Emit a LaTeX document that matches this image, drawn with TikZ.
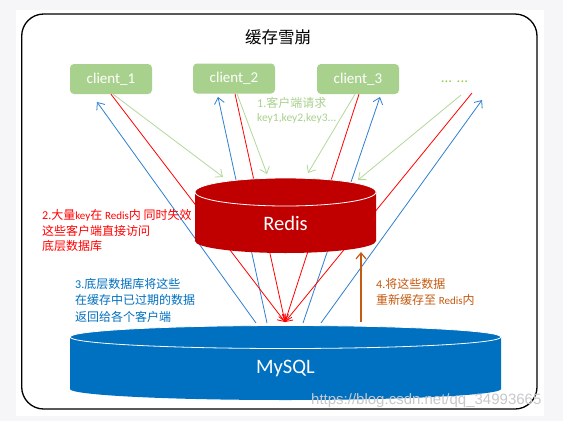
\documentclass[tikz,border=0pt]{standalone}
\usepackage{fontspec}
\setmainfont{Carlito}
\newfontfamily\cjk{Noto Sans CJK SC}
\newfontfamily\calib{Carlito}
\newfontfamily\wmfont{Liberation Sans}
\usetikzlibrary{arrows.meta}
\definecolor{cligreen}{HTML}{A9D18E}
\definecolor{dotgreen}{HTML}{92D050}
\definecolor{redisred}{HTML}{C00000}
\definecolor{mysqlblue}{HTML}{0070C0}
\definecolor{lineblue}{HTML}{2F80D0}
\definecolor{linered}{HTML}{FF0000}
\definecolor{orangec}{HTML}{C55A11}
\definecolor{linegreen}{HTML}{B4D89C}
\definecolor{outergray}{HTML}{F6F6F8}
\definecolor{wmgray}{HTML}{C8C8CC}
\begin{document}
\begin{tikzpicture}[x=1pt,y=-1pt,
  client/.style={fill=cligreen, rounded corners=4pt, minimum width=82pt, minimum height=30pt, inner sep=0pt, text=white, font=\calib\fontsize{15}{15}\selectfont},
  conn/.style={line width=0.8pt, -{Straight Barb[length=6pt,width=10pt]}},
  blueconn/.style={conn, draw=lineblue},
  redconn/.style={conn, draw=linered},
  greenconn/.style={conn, draw=linegreen},
  orangeconn/.style={conn, draw=orangec, line width=1.2pt},
  lab/.style={anchor=west, inner sep=0pt, font=\cjk\fontsize{12}{12}\selectfont},
  dbtext/.style={text=white, inner sep=0pt, font=\calib\fontsize{20.5}{20.5}\selectfont},
]
% background and frame
\fill[outergray] (0,0) rectangle (563,421);
\fill[white] (16,10) rectangle (544,416);
\useasboundingbox (0,0) rectangle (563,421);
\draw[line width=1.3pt, rounded corners=22pt] (21.7,14) rectangle (537,409);

% title
\node[font=\cjk\fontsize{16.5}{16.5}\selectfont] (title) at (278,37) {缓存雪崩};

% clients
\node[client] (c1) at (111,79) {client\_1};
\node[client] (c2) at (234,78.5) {client\_2};
\node[client] (c3) at (358,79) {client\_3};
\node[anchor=base, inner sep=0pt, text=dotgreen, font=\calib\fontsize{15}{15}\selectfont] (dots) at (454.5,82.5) {... ...};

% coordinates
\coordinate (conv) at (285,322);
\coordinate (b1) at (256,323);
\coordinate (b2) at (267,323);
\coordinate (b3) at (303,323);
\coordinate (b4) at (321,323);
\coordinate (t1) at (97,102);
\coordinate (t2) at (218,97);
\coordinate (t3) at (380,97);
\coordinate (t4) at (482,100);
\coordinate (r4) at (472,93);
\coordinate (s4) at (461,95);
\coordinate (g1) at (223,177);
\coordinate (g2) at (267,174);
\coordinate (g3) at (308,173);
\coordinate (g4) at (358,180);
\coordinate (o1) at (361,322);
\coordinate (o2) at (361,252);

% blue: database back to clients
\draw[blueconn] (b1) -- (t1);
\draw[blueconn] (b2) -- (t2);
\draw[blueconn] (b3) -- (t3);
\draw[blueconn] (b4) -- (t4);
% red: clients straight to database
\draw[redconn] (c1.south) -- (conv);
\draw[redconn] ([xshift=1pt]c2.south) -- (conv);
\draw[redconn] ([xshift=1pt]c3.south) -- (conv);
\draw[redconn] (r4) -- (conv);

% Redis cylinder
\fill[redisred] (195,192) -- (195,241) arc[start angle=180, end angle=360, x radius=90.5pt, y radius=12pt] -- (376,192) -- cycle;
\draw[white, line width=0.8pt, fill=redisred] (285.5,192) ellipse [x radius=90.5pt, y radius=14pt];
\node[dbtext] (redis) at (285.5,223) {Redis};

% green: client requests
\draw[greenconn] ([xshift=2pt]c1.south) -- (g1);
\draw[greenconn] ([xshift=3pt]c2.south) -- (g2);
\draw[greenconn] ([xshift=-3pt]c3.south) -- (g3);
\draw[greenconn] (s4) -- (g4);

% MySQL cylinder
\fill[mysqlblue] (70,337) -- (70,389) arc[start angle=180, end angle=360, x radius=215.5pt, y radius=11pt] -- (501,337) -- cycle;
\draw[white, line width=0.8pt, fill=mysqlblue] (285.5,337) ellipse [x radius=215.5pt, y radius=11.5pt];
\node[dbtext] (mysql) at (285.5,368) {MySQL};

% orange: refill cache
\draw[orangeconn] (o1) -- (o2);

% labels
\node[lab, text=cligreen] (l1a) at (257,103) {{\calib 1.}客户端请求};
\node[lab, text=cligreen, font=\calib\fontsize{11.5}{11.5}\selectfont] (l1b) at (257,118) {key1,key2,key3...};

\node[lab, text=linered] (l2a) at (42,215) {{\calib 2.}大量{\calib\fontsize{11}{11}\selectfont key}在 {\calib\fontsize{11}{11}\selectfont Redis}内 同时失效};
\node[lab, text=linered] (l2b) at (42,231) {这些客户端直接访问};
\node[lab, text=linered] (l2c) at (42,246) {底层数据库};

\node[lab, text=mysqlblue] (l3a) at (75,284) {{\calib 3.}底层数据库将这些};
\node[lab, text=mysqlblue] (l3b) at (75,300) {在缓存中已过期的数据};
\node[lab, text=mysqlblue] (l3c) at (75,317) {返回给各个客户端};

\node[lab, text=orangec] (l4a) at (376,284) {{\calib 4.}将这些数据};
\node[lab, text=orangec] (l4b) at (376,300) {重新缓存至 {\calib\fontsize{11}{11}\selectfont Redis}内};

% watermark
\node[anchor=west, inner sep=0pt, text=wmgray, font=\wmfont\fontsize{15}{15}\selectfont] (wm) at (311,401) {https://blog.csdn.net/qq\_34993665};
\end{tikzpicture}
\end{document}
